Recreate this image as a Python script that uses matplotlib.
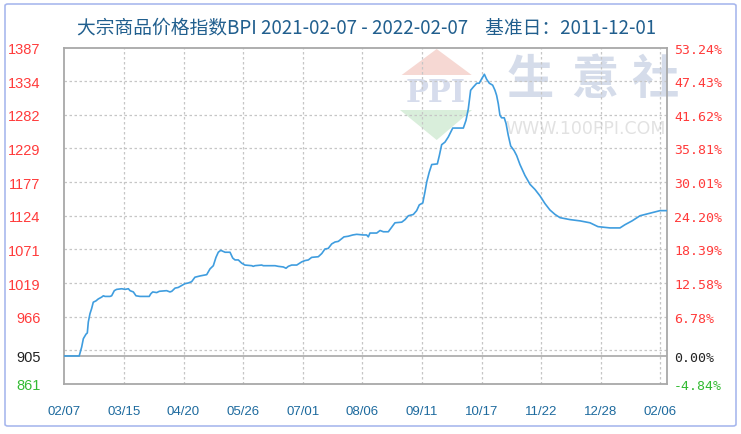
import numpy as np
import pandas as pd
import matplotlib
matplotlib.use('Agg')
import matplotlib.pyplot as plt
from matplotlib.patches import Polygon, FancyBboxPatch

# datos (dia desde 2021-02-07, valor del indice BPI)
days = [0, 9, 10.5, 11.5, 13.1, 13.9, 14.5, 15.5, 16.5, 17.5, 19.1, 20.5, 22.6, 23.6, 24.6,
        27.6, 28.6, 30.2, 31.6, 34.7, 36.7, 38.7, 39.7, 41.7, 43.3, 45.7, 51.3, 52.2, 53.4,
        55.8, 57.4, 61.8, 63.8, 64.9, 66.9, 68.8, 70.9, 72.9, 74.9, 76.9, 78.9, 82.0, 86.0,
        88.0, 90.0, 91.6, 93.0, 94.5, 97.1, 100.1, 101.7, 103.1, 105.1, 107.1, 109.1, 113.2,
        114.1, 115.2, 119.2, 120.2, 127.3, 129.2, 132.3, 133.9, 135.3, 137.3, 140.4, 143.4,
        145.4, 147.4, 149.4, 153.4, 155.5, 157.4, 159.4, 161.5, 163.5, 165.5, 167.5, 168.9,
        171.5, 174.2, 176.6, 180.6, 182.6, 183.6, 184.6, 188.7, 190.7, 192.7, 195.7, 197.7,
        199.7, 203.8, 205.8, 207.8, 210.8, 212.8, 214.4, 216.5, 217.8, 218.9, 220.4, 221.9,
        225.3, 226.5, 227.9, 229.9, 231.9, 234.6, 241.0, 242.6, 244.0, 245.4, 247.0, 249.1,
        250.6, 252.1, 253.7, 255.1, 256.7, 258.7, 260.1, 261.1, 262.1, 263.1, 264.1, 265.7,
        266.8, 268.1, 269.6, 271.6, 273.2, 275.2, 278.2, 281.3, 284.3, 287.3, 290.3, 293.3,
        296.4, 299.4, 305.4, 311.5, 317.5, 322.3, 329.6, 335.6, 338.6, 342.9, 347.7, 353.8,
        359.8, 364]
bpi = [905, 905, 919, 932, 939, 941, 958, 971, 979, 989, 991, 994, 997, 999, 998,
       998, 999, 1007, 1009, 1010, 1009, 1010, 1007, 1005, 999, 998, 998, 1002, 1005,
       1004, 1006, 1007, 1005, 1006, 1011, 1012, 1015, 1018, 1019, 1021, 1028, 1030, 1032,
       1041, 1046, 1059, 1067, 1070, 1067, 1067, 1058, 1055, 1055, 1050, 1047, 1046,
       1045, 1046, 1047, 1046, 1046, 1045, 1044, 1042, 1045, 1047, 1047, 1052,
       1054, 1055, 1059, 1060, 1065, 1072, 1073, 1080, 1083, 1084, 1088, 1091,
       1092, 1094, 1095, 1094, 1094, 1091, 1097, 1097, 1101, 1099, 1099, 1106,
       1113, 1114, 1118, 1124, 1126, 1132, 1141, 1144, 1161, 1177, 1192, 1204,
       1205, 1218, 1235, 1239, 1247, 1261, 1261, 1273, 1291, 1320, 1325, 1331,
       1331, 1338, 1345, 1337, 1331, 1328, 1320, 1312, 1299, 1281, 1277, 1277,
       1268, 1250, 1233, 1226, 1218, 1204, 1187, 1173, 1165, 1155, 1143, 1133,
       1126, 1121, 1118, 1116, 1113, 1107, 1105, 1105, 1110, 1116, 1124, 1128,
       1132, 1132]

base = 905
grid_pct = [-4.84, 0.97, 6.78, 12.58, 18.39, 24.20, 30.01, 35.81, 41.62, 47.43, 53.24]
label_pct = [-4.84, 0.00, 6.78, 12.58, 18.39, 24.20, 30.01, 35.81, 41.62, 47.43, 53.24]
left_labels = ['861', '905', '966', '1019', '1071', '1124', '1177', '1229', '1282', '1334', '1387']
right_labels = ['-4.84%', '0.00%', '6.78%', '12.58%', '18.39%', '24.20%', '30.01%',
                '35.81%', '41.62%', '47.43%', '53.24%']
x_labels = ['02/07', '03/15', '04/20', '05/26', '07/01', '08/06', '09/11',
            '10/17', '11/22', '12/28', '02/06']
x_ticks = np.arange(0, 361, 36)

pct = (np.array(bpi) / base - 1) * 100

plt.rcParams['font.family'] = ['Noto Sans CJK SC', 'DejaVu Sans']

W, H = 741, 435
fig = plt.figure(figsize=(W / 100, H / 100), dpi=100)

def px(x, y):
    return (x / W, 1 - y / H)

# marco exterior
x0, y0 = px(5, 427)
x1, y1 = px(736, 5)
fig.patches.append(FancyBboxPatch((x0, y0), x1 - x0, y1 - y0, boxstyle='round,pad=0,rounding_size=0.004',
                                  transform=fig.transFigure, fill=False, edgecolor='#a9b9ee', linewidth=1.2))

ax = fig.add_axes([64.3 / W, 1 - 385 / H, (667 - 64.3) / W, (385 - 48.5) / H])
ax.set_xlim(0, 364)
ax.set_ylim(grid_pct[0], grid_pct[-1])

# marca de agua
tri_r = Polygon([px(436.7, 50), px(401.7, 76), px(471.7, 76)], closed=True, transform=fig.transFigure,
                facecolor='#f6d8d3', edgecolor='none', zorder=0)
tri_g = Polygon([px(400, 111), px(472, 111), px(436.7, 141)], closed=True, transform=fig.transFigure,
                facecolor='#d9eedb', edgecolor='none', zorder=0)
ax.add_artist(tri_r)
ax.add_artist(tri_g)
ax.text(*px(436, 93), 'PPI', transform=fig.transFigure, ha='center', va='center', fontsize=22,
        fontweight='bold', color='#d6dcec', family='DejaVu Serif', zorder=0)
for cx, ch in zip([530, 595, 655], ['生', '意', '社']):
    ax.text(*px(cx, 80), ch, transform=fig.transFigure, ha='center', va='center', fontsize=34,
            color='#d5dcea', fontweight='bold', zorder=0)
ax.text(*px(586, 129), 'WWW.100PPI.COM', transform=fig.transFigure, ha='center', va='center',
        fontsize=12.5, color='#e2e2e2', family='DejaVu Sans', zorder=0)

# rejilla
for g in grid_pct[1:-1]:
    ax.axhline(g, color='#c6c6c6', linestyle=(0, (2, 2)), linewidth=0.9, zorder=1)
for t in x_ticks[1:]:
    ax.axvline(t, color='#c6c6c6', linestyle=(0, (2, 2)), linewidth=0.9, zorder=1)
ax.axhline(0, color='#a8a8a8', linewidth=1.2, zorder=1)

ax.plot(days, pct, color='#3f9ddf', linewidth=1.2, zorder=3)

for s in ax.spines.values():
    s.set_color('#a8a8a8')
    s.set_linewidth(1.3)

ax.set_yticks(label_pct)
ax.set_yticklabels(left_labels, family='Liberation Sans', fontsize=10.5)
ax.tick_params(axis='y', length=0, pad=17)
for lab, c in zip(ax.get_yticklabels(), ['#33bb33', '#222222'] + ['#ff3b3b'] * 9):
    lab.set_color(c)

ax2 = ax.twinx()
ax2.set_ylim(ax.get_ylim())
ax2.set_yticks(label_pct)
ax2.set_yticklabels(right_labels, family='DejaVu Sans Mono', fontsize=9.5)
ax2.tick_params(axis='y', length=0, pad=5)
for lab, c in zip(ax2.get_yticklabels(), ['#33bb33', '#222222'] + ['#ff3b3b'] * 9):
    lab.set_color(c)
for s in ax2.spines.values():
    s.set_visible(False)

ax.set_xticks(x_ticks)
ax.set_xticklabels(x_labels, family='Liberation Sans', fontsize=9.5, color='#1d6a9e')
ax.tick_params(axis='x', length=0, pad=15)

fig.text(*px(367, 28), '大宗商品价格指数BPI 2021-02-07 - 2022-02-07    基准日：2011-12-01',
         ha='center', va='center', fontsize=13.5, color='#215f8e')

plt.savefig('out.png', dpi=100)
